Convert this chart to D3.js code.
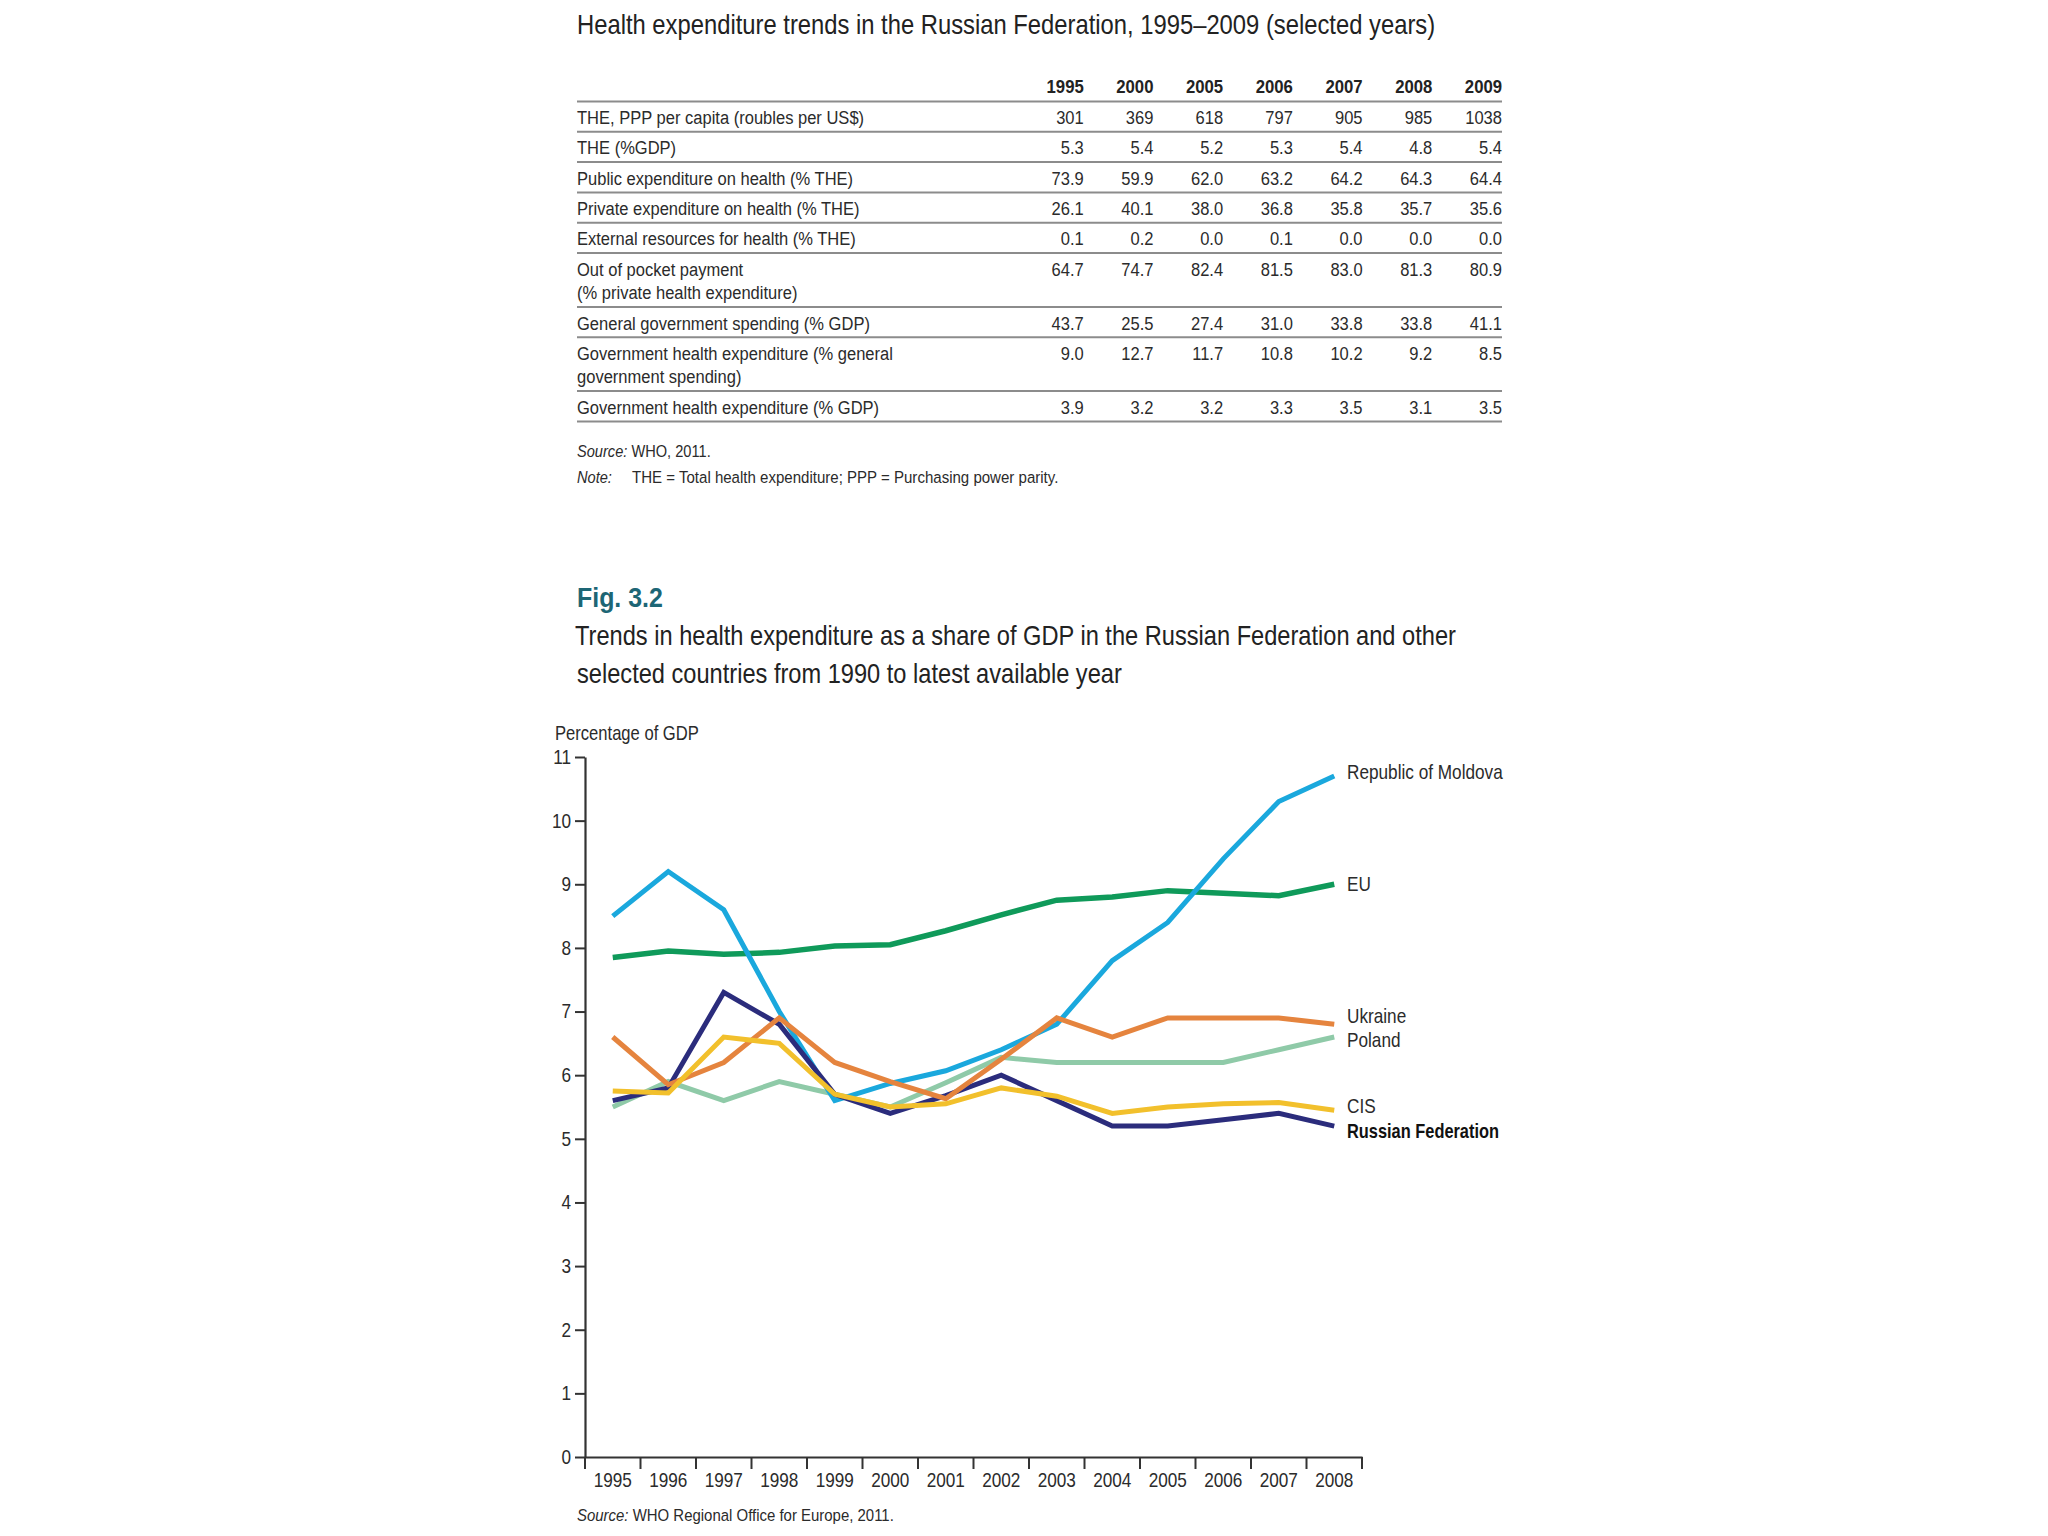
<!DOCTYPE html>
<html>
<head>
<meta charset="utf-8">
<script src="https://cdn.jsdelivr.net/npm/d3@7"></script>
<style>
  body { margin: 0; background: #ffffff; }
  svg { display: block; }
</style>
</head>
<body>
<svg id="c" width="2048" height="1536"></svg>
<script>
// ---------------- TABLE DATA ----------------
const tableTitle = "Health expenditure trends in the Russian Federation, 1995\u20132009 (selected years)";
const tableYears = ["1995", "2000", "2005", "2006", "2007", "2008", "2009"];
const tableRowLabels = [
  ["THE, PPP per capita (roubles per US$)"],
  ["THE (%GDP)"],
  ["Public expenditure on health (% THE)"],
  ["Private expenditure on health (% THE)"],
  ["External resources for health (% THE)"],
  ["Out of pocket payment", "(% private health expenditure)"],
  ["General government spending (% GDP)"],
  ["Government health expenditure (% general", "government spending)"],
  ["Government health expenditure (% GDP)"]
];
const thePppPerCapita   = ["301", "369", "618", "797", "905", "985", "1038"];
const theShareGdp       = ["5.3", "5.4", "5.2", "5.3", "5.4", "4.8", "5.4"];
const publicShareThe    = ["73.9", "59.9", "62.0", "63.2", "64.2", "64.3", "64.4"];
const privateShareThe   = ["26.1", "40.1", "38.0", "36.8", "35.8", "35.7", "35.6"];
const externalShareThe  = ["0.1", "0.2", "0.0", "0.1", "0.0", "0.0", "0.0"];
const outOfPocketShare  = ["64.7", "74.7", "82.4", "81.5", "83.0", "81.3", "80.9"];
const govSpendingGdp    = ["43.7", "25.5", "27.4", "31.0", "33.8", "33.8", "41.1"];
const govHealthShareGov = ["9.0", "12.7", "11.7", "10.8", "10.2", "9.2", "8.5"];
const govHealthShareGdp = ["3.9", "3.2", "3.2", "3.3", "3.5", "3.1", "3.5"];
const tableValues = [thePppPerCapita, theShareGdp, publicShareThe, privateShareThe, externalShareThe,
                     outOfPocketShare, govSpendingGdp, govHealthShareGov, govHealthShareGdp];
const tableSource = "WHO, 2011.";
const tableNote = "THE = Total health expenditure; PPP = Purchasing power parity.";

// ---------------- CHART DATA ----------------
const figLabel = "Fig. 3.2";
const figTitle = ["Trends in health expenditure as a share of GDP in the Russian Federation and other",
                  "selected countries from 1990 to latest available year"];
const yAxisTitle = "Percentage of GDP";
const chartYears = ["1995","1996","1997","1998","1999","2000","2001","2002","2003","2004","2005","2006","2007","2008"];
const yTicks = [0,1,2,3,4,5,6,7,8,9,10,11];
const seriesNames = ["Poland", "EU", "Republic of Moldova", "Russian Federation", "Ukraine", "CIS"];
const polandValues  = [5.5, 5.9, 5.6, 5.9, 5.7, 5.5, 5.88, 6.28, 6.2, 6.2, 6.2, 6.2, 6.4, 6.6];
const euValues      = [7.85, 7.95, 7.9, 7.93, 8.03, 8.05, 8.27, 8.52, 8.75, 8.8, 8.9, 8.86, 8.82, 9.0];
const moldovaValues = [8.5, 9.2, 8.6, 7.0, 5.6, 5.87, 6.07, 6.4, 6.8, 7.8, 8.4, 9.4, 10.3, 10.7];
const russiaValues  = [5.6, 5.8, 7.3, 6.8, 5.7, 5.4, 5.68, 6.0, 5.6, 5.2, 5.2, 5.3, 5.4, 5.2];
const ukraineValues = [6.6, 5.85, 6.2, 6.9, 6.2, 5.9, 5.63, 6.25, 6.9, 6.6, 6.9, 6.9, 6.9, 6.8];
const cisValues     = [5.75, 5.72, 6.6, 6.5, 5.7, 5.5, 5.55, 5.8, 5.67, 5.4, 5.5, 5.55, 5.57, 5.45];
const seriesValues = [polandValues, euValues, moldovaValues, russiaValues, ukraineValues, cisValues];
const chartSource = "WHO Regional Office for Europe, 2011.";

// ---------------- STYLE / LAYOUT ----------------
const FONT = "'Liberation Sans', Arial, sans-serif";
const TEXT = "#2b2b2b";
const seriesColors = ["#8fcaa8", "#0f9a5a", "#1aa8dd", "#2b2c7c", "#e5843e", "#f2c02c"];
const seriesWidths = [5, 5.5, 5, 5, 5, 5];
const labelOffsets = [3, 0, -4, 5, -8, -4];   // vertical nudge of end labels
const labelBold    = [false, false, false, true, false, false];
const labelSX      = [0.86, 0.86, 0.86, 0.82, 0.86, 0.86];

const svg = d3.select("#c");
// horizontal condensing to mimic a narrow face
const tr = (x, y, sx) => `translate(${x},${y}) scale(${sx},1)`;

// ---------- Table ----------
svg.append("text").attr("transform", tr(577, 24, 0.85)).attr("dy", "0.35em")
  .attr("font-family", FONT).attr("font-size", 28).attr("fill", "#222")
  .text(tableTitle);

const colX = d3.scaleBand().domain(tableYears).range([1014, 1502]);
const tableLeft = 577, tableRight = 1502;

svg.append("g").selectAll("text").data(tableYears).join("text")
  .attr("transform", d => tr(colX(d) + colX.bandwidth(), 86, 0.88))
  .attr("dy", "0.35em")
  .attr("text-anchor", "end")
  .attr("font-family", FONT).attr("font-size", 19).attr("font-weight", "bold").attr("fill", "#222")
  .text(d => d);

const singleH = 30.3, extraLineH = 23.6;
let yTop = 101.5;
const rowTops = [];
tableRowLabels.forEach(lines => { rowTops.push(yTop); yTop += singleH + (lines.length - 1) * extraLineH; });
const separators = [101.5].concat(rowTops.map((t, i) => t + singleH + (tableRowLabels[i].length - 1) * extraLineH));

svg.append("g").selectAll("line").data(separators).join("line")
  .attr("x1", tableLeft).attr("x2", tableRight)
  .attr("y1", d => d).attr("y2", d => d)
  .attr("stroke", "#8c8c8c").attr("stroke-width", 2);

const rowsG = svg.append("g").attr("font-family", FONT).attr("font-size", 19).attr("fill", TEXT);
tableRowLabels.forEach((lines, i) => {
  lines.forEach((ln, j) => {
    rowsG.append("text").attr("transform", tr(tableLeft, rowTops[i] + 16 + j * extraLineH, 0.87))
      .attr("dy", "0.35em").text(ln);
  });
  rowsG.selectAll(null).data(tableValues[i]).join("text")
    .attr("transform", (d, k) => tr(colX(tableYears[k]) + colX.bandwidth(), rowTops[i] + 16, 0.87))
    .attr("dy", "0.35em")
    .attr("text-anchor", "end").text(d => d);
});

const srcT = svg.append("text").attr("transform", tr(tableLeft, 451, 0.86)).attr("dy", "0.35em")
  .attr("font-family", FONT).attr("font-size", 17).attr("fill", TEXT);
srcT.append("tspan").attr("font-style", "italic").text("Source:");
srcT.append("tspan").text(" " + tableSource);
svg.append("text").attr("transform", tr(tableLeft, 477, 0.86)).attr("dy", "0.35em")
  .attr("font-family", FONT).attr("font-size", 17).attr("font-style", "italic").attr("fill", TEXT)
  .text("Note:");
svg.append("text").attr("transform", tr(632, 477, 0.885)).attr("dy", "0.35em")
  .attr("font-family", FONT).attr("font-size", 17).attr("fill", TEXT)
  .text(tableNote);

// ---------- Figure heading ----------
svg.append("text").attr("transform", tr(577, 597, 0.89)).attr("dy", "0.35em")
  .attr("font-family", FONT).attr("font-size", 28).attr("font-weight", "bold").attr("fill", "#1d6675")
  .text(figLabel);
svg.append("g").selectAll("text").data(figTitle).join("text")
  .attr("transform", (d, i) => tr(i === 0 ? 575 : 577, 636 + i * 38, 0.875)).attr("dy", "0.35em")
  .attr("font-family", FONT).attr("font-size", 27).attr("fill", "#222")
  .text(d => d);

// ---------- Chart ----------
const x = d3.scaleBand().domain(chartYears).range([585, 1362]);
const y = d3.scaleLinear().domain([0, 11]).range([1457, 757]);

svg.append("text").attr("transform", tr(555, 733, 0.83)).attr("dy", "0.35em")
  .attr("font-family", FONT).attr("font-size", 20).attr("fill", TEXT)
  .text(yAxisTitle);

const yAxisG = svg.append("g").attr("transform", "translate(585,0)")
  .call(d3.axisLeft(y).tickValues(yTicks).tickFormat(d3.format("d")).tickSize(10).tickSizeOuter(0).tickPadding(4));
yAxisG.select(".domain").attr("stroke", "#333").attr("stroke-width", 2.2);
yAxisG.selectAll(".tick line").attr("stroke", "#333").attr("stroke-width", 2);
yAxisG.selectAll(".tick text")
  .attr("x", null)
  .attr("transform", `translate(-14,0) scale(0.86,1)`)
  .attr("font-family", FONT).attr("font-size", 20).attr("fill", TEXT);

const xAxisG = svg.append("g").attr("transform", "translate(0,1457)")
  .call(d3.axisBottom(x).tickSize(0).tickSizeOuter(0).tickPadding(16));
xAxisG.select(".domain").attr("stroke", "#333").attr("stroke-width", 2.2);
xAxisG.selectAll(".tick text")
  .attr("transform", `scale(0.86,1)`)
  .attr("font-family", FONT).attr("font-size", 20).attr("fill", TEXT);
// tick marks at band edges
const edges = chartYears.map(d => x(d)).concat([x.range()[1]]);
xAxisG.selectAll("line.edge").data(edges).join("line").attr("class", "edge")
  .attr("x1", d => d).attr("x2", d => d).attr("y1", 0).attr("y2", 12)
  .attr("stroke", "#333").attr("stroke-width", 2);

const line = d3.line()
  .x((d, i) => x(chartYears[i]) + x.bandwidth() / 2)
  .y(d => y(d));

svg.append("g").selectAll("path").data(seriesValues).join("path")
  .attr("d", d => line(d))
  .attr("fill", "none")
  .attr("stroke", (d, i) => seriesColors[i])
  .attr("stroke-width", (d, i) => seriesWidths[i])
  .attr("stroke-linejoin", "miter")
  .attr("stroke-linecap", "butt");

svg.append("g").selectAll("text").data(seriesNames).join("text")
  .attr("transform", (d, i) => tr(1347, y(seriesValues[i][seriesValues[i].length - 1]) + labelOffsets[i], labelSX[i]))
  .attr("dy", "0.35em")
  .attr("font-family", FONT).attr("font-size", 20)
  .attr("font-weight", (d, i) => labelBold[i] ? "bold" : "normal")
  .attr("fill", (d, i) => labelBold[i] ? "#111" : TEXT)
  .text(d => d);

const cs = svg.append("text").attr("transform", tr(577, 1515, 0.88)).attr("dy", "0.35em")
  .attr("font-family", FONT).attr("font-size", 17).attr("fill", TEXT);
cs.append("tspan").attr("font-style", "italic").text("Source:");
cs.append("tspan").text(" " + chartSource);
</script>
</body>
</html>
